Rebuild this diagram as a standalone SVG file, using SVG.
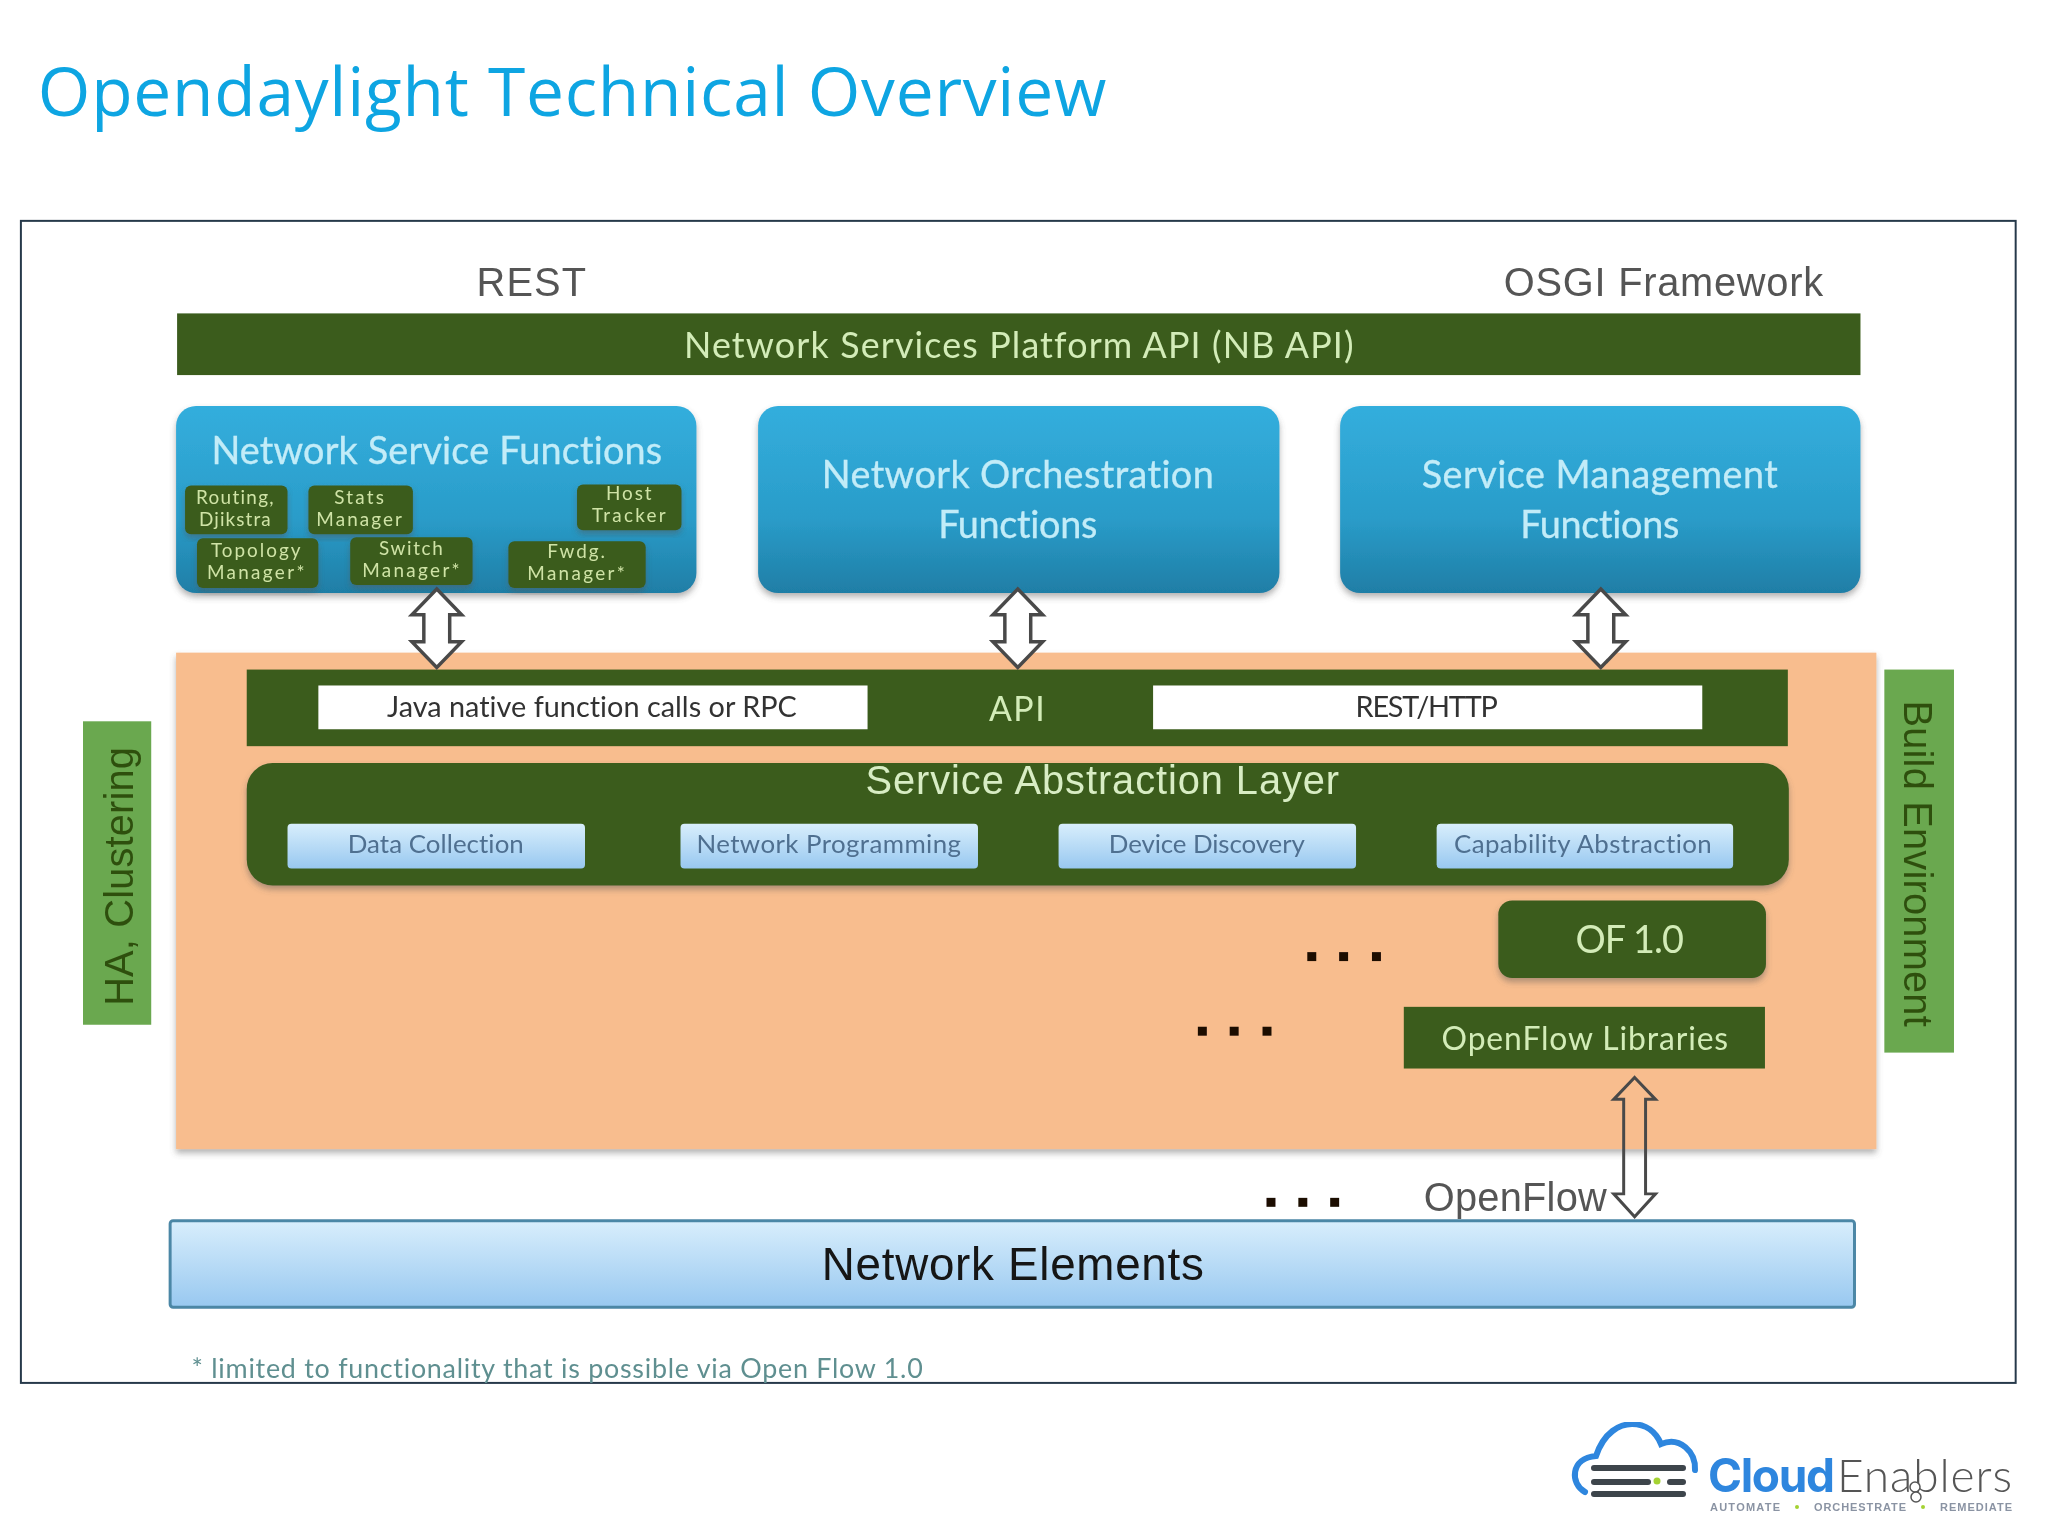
<svg xmlns="http://www.w3.org/2000/svg" width="2048" height="1536" viewBox="0 0 2048 1536">
<style>
text{text-anchor:middle;font-variant-ligatures:none}
.l{font-family:"Lato","Liberation Sans",sans-serif}
.a{font-family:"Liberation Sans",Arial,sans-serif}
.g{fill:#3a5c1c}
.lt{fill:#d3ecb8}
.sm{font-size:19px;fill:#cfe3a6;font-family:"Lato","Liberation Sans",sans-serif}
.wh{font-size:38px;fill:#c2ecf8;stroke:#c2ecf8;stroke-width:.3;font-family:"Lato","Liberation Sans",sans-serif}
.cap{font-size:26px;fill:#4f6f90;font-family:"Lato","Liberation Sans",sans-serif}
.dot{fill:#1a0c04}
.ar{fill:#fff;stroke:#4a4a4a;stroke-width:3.5}
.ar2{fill:none;stroke:#4a4a4a;stroke-width:3}
</style>
<defs>
<linearGradient id="bl" x1="0" y1="0" x2="0" y2="1"><stop offset="0" stop-color="#33aedd"/><stop offset="0.6" stop-color="#2a9cc9"/><stop offset="1" stop-color="#1f7ea6"/></linearGradient>
<linearGradient id="sky" x1="0" y1="0" x2="0" y2="1"><stop offset="0" stop-color="#d8eefc"/><stop offset="1" stop-color="#98c8f0"/></linearGradient>
<filter id="sh" x="-5%" y="-10%" width="110%" height="125%"><feDropShadow dx="0" dy="4" stdDeviation="3" flood-color="#555" flood-opacity="0.45"/></filter>
<filter id="soft" x="-2%" y="-2%" width="104%" height="104%"><feGaussianBlur stdDeviation="0.7"/></filter>
</defs>
<rect width="2048" height="1536" fill="#fff"/>
<g transform="scale(0.9949)">
<text id="title" x="38" y="117" style="text-anchor:start;font-family:'Open Sans','Liberation Sans',sans-serif;font-size:68px;fill:#0ea5e2" textLength="1074">Opendaylight Technical Overview</text>
<rect id="frame" x="21" y="222" width="2005" height="1168" fill="#fff" stroke="#26394a" stroke-width="2"/>
<g filter="url(#soft)">
<g id="rest"><text class="a" x="534" y="298" font-size="40" fill="#555" textLength="110">REST</text></g>
<g id="osgi"><text class="a" x="1672" y="298" font-size="40" fill="#555" textLength="321">OSGI Framework</text></g>
<g id="nb-api"><rect x="178" y="315" width="1692" height="62" class="g"/><text class="l lt" x="1024" y="360" font-size="36" textLength="673">Network Services Platform API (NB API)</text></g>
<g id="sal-block"><rect x="177" y="656" width="1709" height="499" fill="#f8bd8e" filter="url(#sh)"/></g>
<g id="nsf"><rect x="177" y="408" width="523" height="188" rx="20" fill="url(#bl)" filter="url(#sh)"/><text class="wh" x="439" y="466" textLength="453">Network Service Functions</text></g>
<g id="routing"><rect x="186" y="488" width="103" height="49" rx="6" class="g" filter="url(#sh)"/><text class="sm" x="236" y="507" textLength="78">Routing,</text><text class="sm" x="236" y="529" textLength="72">Djikstra</text></g>
<g id="stats"><rect x="310" y="488" width="105" height="49" rx="6" class="g" filter="url(#sh)"/><text class="sm" x="361" y="507" textLength="50">Stats</text><text class="sm" x="361" y="529" textLength="86">Manager</text></g>
<g id="host"><rect x="580" y="487" width="105" height="46" rx="6" class="g" filter="url(#sh)"/><text class="sm" x="632" y="503" textLength="46">Host</text><text class="sm" x="632" y="525" textLength="74">Tracker</text></g>
<g id="topology"><rect x="198" y="541" width="122" height="50" rx="6" class="g" filter="url(#sh)"/><text class="sm" x="257" y="560" textLength="90">Topology</text><text class="sm" x="257" y="582" textLength="98">Manager*</text></g>
<g id="switch"><rect x="352" y="540" width="123" height="48" rx="6" class="g" filter="url(#sh)"/><text class="sm" x="413" y="558" textLength="64">Switch</text><text class="sm" x="413" y="580" textLength="98">Manager*</text></g>
<g id="fwdg"><rect x="511" y="544" width="138" height="47" rx="6" class="g" filter="url(#sh)"/><text class="sm" x="579" y="561" textLength="58">Fwdg.</text><text class="sm" x="579" y="583" textLength="98">Manager*</text></g>
<g id="orch"><rect x="762" y="408" width="524" height="188" rx="20" fill="url(#bl)" filter="url(#sh)"/><text class="wh" x="1023" y="491" textLength="394">Network Orchestration</text><text class="wh" x="1023" y="541" textLength="160">Functions</text></g>
<g id="mgmt"><rect x="1347" y="408" width="523" height="188" rx="20" fill="url(#bl)" filter="url(#sh)"/><text class="wh" x="1608" y="491" textLength="358">Service Management</text><text class="wh" x="1608" y="541" textLength="160">Functions</text></g>
<g id="api"><rect x="248" y="673" width="1549" height="77" class="g"/>
<rect x="320" y="689" width="552" height="44" fill="#fff"/><text class="l" x="595" y="721" font-size="29" fill="#333" textLength="412">Java native function calls or RPC</text>
<text class="l lt" x="1022" y="725" font-size="34" textLength="56">API</text>
<rect x="1159" y="689" width="552" height="44" fill="#fff"/><text class="l" x="1434" y="721" font-size="29" fill="#333" textLength="143">REST/HTTP</text></g>
<g id="sal"><rect x="248" y="767" width="1550" height="123" rx="26" class="g" filter="url(#sh)"/><text class="a" x="1108" y="798" font-size="40" fill="#d8edc4" textLength="476">Service Abstraction Layer</text>
<rect x="289" y="828" width="299" height="45" rx="4" fill="url(#sky)"/><text class="cap" x="438" y="857" textLength="177">Data Collection</text>
<rect x="684" y="828" width="299" height="45" rx="4" fill="url(#sky)"/><text class="cap" x="833" y="857" textLength="266">Network Programming</text>
<rect x="1064" y="828" width="299" height="45" rx="4" fill="url(#sky)"/><text class="cap" x="1213" y="857" textLength="197">Device Discovery</text>
<rect x="1444" y="828" width="298" height="45" rx="4" fill="url(#sky)"/><text class="cap" x="1591" y="857" textLength="259">Capability Abstraction</text></g>
<g id="of10"><rect x="1506" y="905" width="269" height="78" rx="14" class="g" filter="url(#sh)"/><text class="l lt" x="1638" y="958" font-size="38" textLength="109">OF 1.0</text></g>
<g id="ofl"><rect x="1411" y="1012" width="363" height="62" class="g"/><text class="l lt" x="1593" y="1055" font-size="32" textLength="288">OpenFlow Libraries</text></g>
<g id="ne"><rect x="171" y="1227" width="1693" height="87" rx="3" fill="url(#sky)" stroke="#4c87a6" stroke-width="3"/><text class="a" x="1018" y="1287" font-size="46" fill="#141414" textLength="384">Network Elements</text></g>
<g id="ha"><rect x="83" y="725" width="69" height="305" fill="#6aa84f"/><text class="a" transform="translate(134 881) rotate(-90)" font-size="40" fill="#2f5010" textLength="260">HA, Clustering</text></g>
<g id="build"><rect x="1894" y="673" width="70" height="385" fill="#6aa84f"/><text class="a" transform="translate(1914 868) rotate(90)" font-size="40" fill="#2f5010" textLength="328">Build Environment</text></g>
<g id="dots">
<rect class="dot" x="1314" y="957" width="9" height="9"/><rect class="dot" x="1346" y="957" width="9" height="9"/><rect class="dot" x="1379" y="957" width="9" height="9"/>
<rect class="dot" x="1204" y="1032" width="9" height="9"/><rect class="dot" x="1236" y="1032" width="9" height="9"/><rect class="dot" x="1269" y="1032" width="9" height="9"/>
<rect class="dot" x="1273" y="1204" width="9" height="9"/><rect class="dot" x="1305" y="1204" width="9" height="9"/><rect class="dot" x="1337" y="1204" width="9" height="9"/>
</g>
<g id="of-label"><text class="a" x="1523" y="1217" font-size="40" fill="#555" textLength="184">OpenFlow</text></g>
<g id="footnote"><text class="l" x="560" y="1385" font-size="27" fill="#5f8f90" textLength="735">* limited to functionality that is possible via Open Flow 1.0</text></g>
<g id="connectors">
<path class="ar" d="M439 592L464 618H452V645H464L439 671L414 645H426V618H414Z"/>
<path class="ar" d="M1023 592L1048 618H1036V645H1048L1023 671L998 645H1010V618H998Z"/>
<path class="ar" d="M1609 592L1634 618H1622V645H1634L1609 671L1584 645H1596V618H1584Z"/>
<path class="ar2" d="M1643 1083L1664 1105H1654V1200H1664L1643 1223L1622 1200H1632V1105H1622Z"/>
</g>
</g>
</g>
<g id="logo" filter="url(#soft)">
<path d="M1585 1492C1570 1484 1570 1458 1596 1456C1604 1432 1620 1424 1632 1424C1646 1424 1656 1432 1661 1444C1680 1436 1696 1452 1695 1470" fill="none" stroke="#2e86de" stroke-width="6" stroke-linecap="round"/>
<path d="M1594 1468H1683M1594 1482H1648M1670 1482H1683M1594 1494H1683" stroke="#3d444c" stroke-width="6" stroke-linecap="round" fill="none"/>
<circle cx="1657" cy="1481" r="3.5" fill="#a4d233"/>
<text x="1708" y="1492" style="text-anchor:start" font-family="Inter,'Liberation Sans',sans-serif" font-weight="700" font-size="46" fill="#2e86de" textLength="127">Cloud</text>
<text x="1837" y="1492" style="text-anchor:start" font-family="Lato,'Liberation Sans',sans-serif" font-weight="300" font-size="46" fill="#555" textLength="175">Enablers</text>
<circle cx="1915" cy="1487" r="5" fill="#fff" stroke="#555" stroke-width="1.5"/><circle cx="1916" cy="1497" r="5" fill="#fff" stroke="#555" stroke-width="1.5"/>
<g font-family="'Liberation Sans',sans-serif" font-size="11" font-weight="700" fill="#8a93a3">
<text x="1745" y="1511" textLength="70">AUTOMATE</text><text x="1860" y="1511" textLength="92">ORCHESTRATE</text><text x="1976" y="1511" textLength="72">REMEDIATE</text></g>
<circle cx="1797" cy="1507" r="2" fill="#a4d233"/><circle cx="1923" cy="1507" r="2" fill="#a4d233"/>
</g>
</svg>
